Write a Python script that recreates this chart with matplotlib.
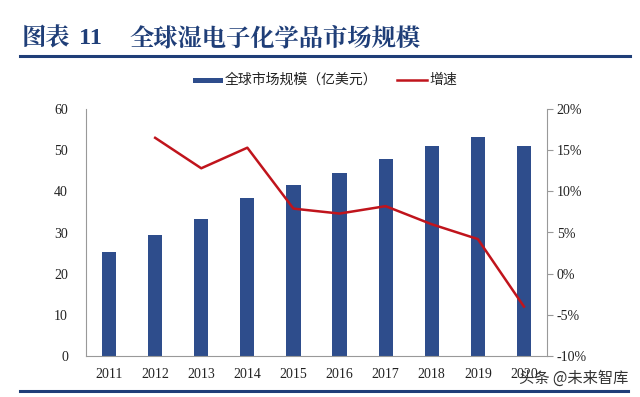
import numpy as np
import matplotlib
matplotlib.use('Agg')
import matplotlib.pyplot as plt
from matplotlib.patches import Rectangle
from matplotlib.lines import Line2D

plt.rcParams['font.family'] = ['Noto Sans CJK SC', 'DejaVu Sans']

years = ['2011', '2012', '2013', '2014', '2015', '2016', '2017', '2018', '2019', '2020']
market_size = [25.3, 29.5, 33.3, 38.5, 41.5, 44.4, 47.9, 50.9, 53.1, 50.9]
growth = [None, 16.5, 12.8, 15.3, 7.9, 7.3, 8.2, 6.0, 4.2, -4.0]

bar_color = '#2E4D8C'
line_color = '#C0141C'
title_color = '#1F3E78'
serif = 'Liberation Serif'
title_fam = ['Noto Serif CJK SC', 'Noto Sans CJK SC', 'DejaVu Sans']

fig = plt.figure(figsize=(6.4, 3.97), dpi=100)
ax = fig.add_axes([86 / 640, 1 - 356 / 397, 461 / 640, 247 / 397])

x = np.arange(len(years))
ax.bar(x, market_size, width=0.31, color=bar_color, zorder=2)
ax.set_xlim(-0.5, len(years) - 0.5)
ax.set_ylim(0, 60)
ax.set_yticks(range(0, 61, 10))
ax.set_xticks(x)
ax.set_xticklabels(years)
for sp in ['top', 'right']:
    ax.spines[sp].set_visible(False)
for sp in ['left', 'bottom']:
    ax.spines[sp].set_color('#999999')
ax.tick_params(axis='both', length=0, labelsize=10, colors='#222222')
ax.tick_params(axis='x', pad=9)
ax.tick_params(axis='y', pad=13)
for lbl in ax.get_xticklabels() + ax.get_yticklabels():
    lbl.set_family(serif)

ax2 = ax.twinx()
gx = [i for i, g in enumerate(growth) if g is not None]
gy = [g for g in growth if g is not None]
ax2.plot(gx, gy, color=line_color, lw=1.8, zorder=3)
ax2.set_ylim(-10, 20)
ax2.set_yticks(range(-10, 21, 5))
ax2.set_yticklabels(['%d%%' % v for v in range(-10, 21, 5)])
for sp in ['top', 'left', 'bottom']:
    ax2.spines[sp].set_visible(False)
ax2.spines['right'].set_color('#999999')
ax2.tick_params(axis='y', length=4, direction='out', color='#999999',
                labelsize=10, labelcolor='#222222', pad=3)
for lbl in ax2.get_yticklabels():
    lbl.set_family(serif)

# title and rules
fig.text(22 / 640, 1 - 39 / 397, '图表', fontsize=17.5, fontweight='bold',
         color=title_color, va='center', ha='left', family=title_fam)
fig.text(79 / 640, 1 - 39 / 397, '11', fontsize=17.5, fontweight='bold',
         color=title_color, va='center', ha='left', family=serif)
fig.text(129 / 640, 1 - 39 / 397, '全球湿电子化学品市场规模', fontsize=17.5, fontweight='bold',
         color=title_color, va='center', ha='left', family=title_fam)
fig.add_artist(Line2D([20 / 640, 630 / 640], [1 - 56 / 397] * 2, color=title_color, lw=2.2))
fig.add_artist(Line2D([20 / 640, 628 / 640], [1 - 391 / 397] * 2, color=title_color, lw=2.2))

# legend
ly = 1 - 80 / 397
fig.add_artist(Rectangle((193 / 640, ly - 2.5 / 397), 30 / 640, 5 / 397,
                         facecolor=bar_color, edgecolor='none'))
fig.text(225 / 640, ly, '全球市场规模（亿美元）', fontsize=10, va='center', ha='left', color='#222222')
fig.add_artist(Line2D([397 / 640, 427 / 640], [ly, ly], color=line_color, lw=1.8))
fig.text(429 / 640, ly, '增速', fontsize=10, va='center', ha='left', color='#222222')

# watermark
fig.text(628 / 640, 1 - 378 / 397, '头条 @未来智库', fontsize=11, va='center', ha='right',
         color='#333333')

fig.savefig('out.png', dpi=100)
